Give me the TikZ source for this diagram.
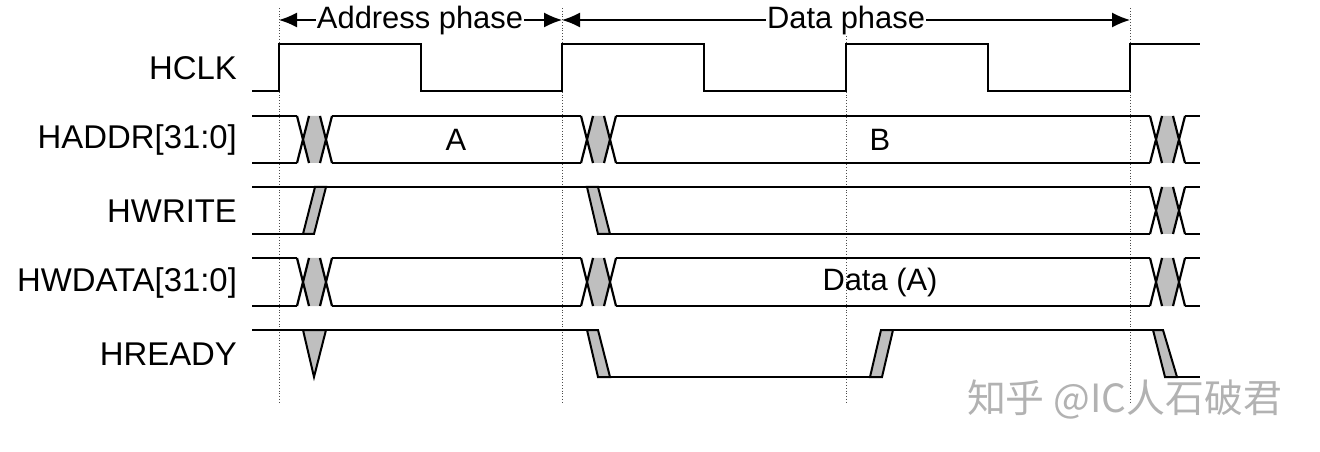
\documentclass[tikz,border=0pt]{standalone}
\usepackage{fontspec}
\setmainfont{Liberation Sans}
\newfontfamily\cjk{Noto Sans CJK SC}
\usetikzlibrary{arrows.meta}
\begin{document}
\begin{tikzpicture}[x=1bp,y=-1bp,line width=2.2bp,line join=miter,
  gr/.style={fill=black!25,draw=black,line width=2bp},
  lbl/.style={anchor=east,font=\fontsize{33}{33}\selectfont,inner sep=0},
  txt/.style={font=\fontsize{31}{31}\selectfont,inner sep=0},
  dot/.style={line width=0.8bp,dotted,draw=black!70},
  ph/.style={line width=1.3bp,{Latex[length=18bp,width=15bp]}-{Latex[length=18bp,width=15bp]}}]
\useasboundingbox (0,0) rectangle (1320,452);
% dotted cycle lines
\foreach \x/\n in {279/a,562/b,846/c,1130/d}{
  \coordinate (t\n) at (\x,8); \coordinate (u\n) at (\x,402);
  \draw[dot] (t\n) -- (u\n);}
% phase arrows
\coordinate (p1) at (279,20); \coordinate (p2) at (562,20); \coordinate (p3) at (1130,20);
\draw[ph] (p1) -- (p2);
\draw[ph] (p2) -- (p3);
\node[txt,fill=white,inner xsep=1bp] (ap) at (420,21) {Address phase};
\node[txt,fill=white,inner xsep=1bp] (dp) at (846,21) {Data phase};
% labels
\node[lbl] (l1) at (238,68) {HCLK};
\node[lbl] (l2) at (238,140) {HADDR[31:0]};
\node[lbl] (l3) at (238,211) {HWRITE};
\node[lbl] (l4) at (238,283) {HWDATA[31:0]};
\node[lbl] (l5) at (238,354) {HREADY};
% HCLK
\draw (252,91) -- (279,91) -- (279,44) -- (421,44) -- (421,91) -- (562,91) -- (562,44) -- (704,44) -- (704,91)
  -- (846,91) -- (846,44) -- (988,44) -- (988,91) -- (1130,91) -- (1130,44) -- (1200,44);
% bus X transitions: \busx{top}{bottom}{start}
\newcommand\busx[3]{%
  \pgfmathsetmacro\m{(#1+#2)/2}%
  \fill[black!25] ({#3+6},\m) -- ({#3+12},#1) -- ({#3+23},#1) -- ({#3+29},\m) -- ({#3+23},#2) -- ({#3+12},#2) -- cycle;
  \draw (#3,#1) -- ({#3+12},#2) (#3,#2) -- ({#3+12},#1);
  \draw ({#3+23},#1) -- ({#3+35},#2) ({#3+23},#2) -- ({#3+35},#1);}
% HADDR / HWDATA
\foreach \tp/\bt in {116/163,258/306}{
  \busx{\tp}{\bt}{297}\busx{\tp}{\bt}{581}\busx{\tp}{\bt}{1150}
  \draw (252,\tp) -- (297,\tp) (332,\tp) -- (581,\tp) (616,\tp) -- (1150,\tp) (1185,\tp) -- (1200,\tp);
  \draw (252,\bt) -- (297,\bt) (332,\bt) -- (581,\bt) (616,\bt) -- (1150,\bt) (1185,\bt) -- (1200,\bt);}
\node[txt] (va) at (456,140) {A};
\node[txt] (vb) at (880,140) {B};
\node[txt] (vd) at (880,283) {Data (A)};
% HWRITE
\draw (252,187) -- (1150,187) (1185,187) -- (1200,187);
\draw (252,234) -- (303,234) (610,234) -- (1150,234) (1185,234) -- (1200,234);
\draw[gr] (303,234) -- (315,187) -- (326,187) -- (314,234) -- cycle;
\draw[gr] (587,187) -- (598,187) -- (610,234) -- (598,234) -- cycle;
\busx{187}{234}{1150}
% HREADY
\draw (252,330) -- (598,330) (883,330) -- (1163,330);
\draw (610,377) -- (870,377) (1177,377) -- (1200,377);
\draw[gr] (303,330) -- (326,330) -- (314,377) -- cycle;
\draw[gr] (587,330) -- (598,330) -- (610,377) -- (598,377) -- cycle;
\draw[gr] (870,377) -- (882,377) -- (893,330) -- (881,330) -- cycle;
\draw[gr] (1153,330) -- (1163,330) -- (1177,377) -- (1165,377) -- cycle;
% watermark
\node[font=\cjk\fontsize{39}{39}\selectfont,text=black!30,anchor=west,inner sep=0] (wm) at (966,400) {知乎 @IC人石破君};
\end{tikzpicture}
\end{document}
